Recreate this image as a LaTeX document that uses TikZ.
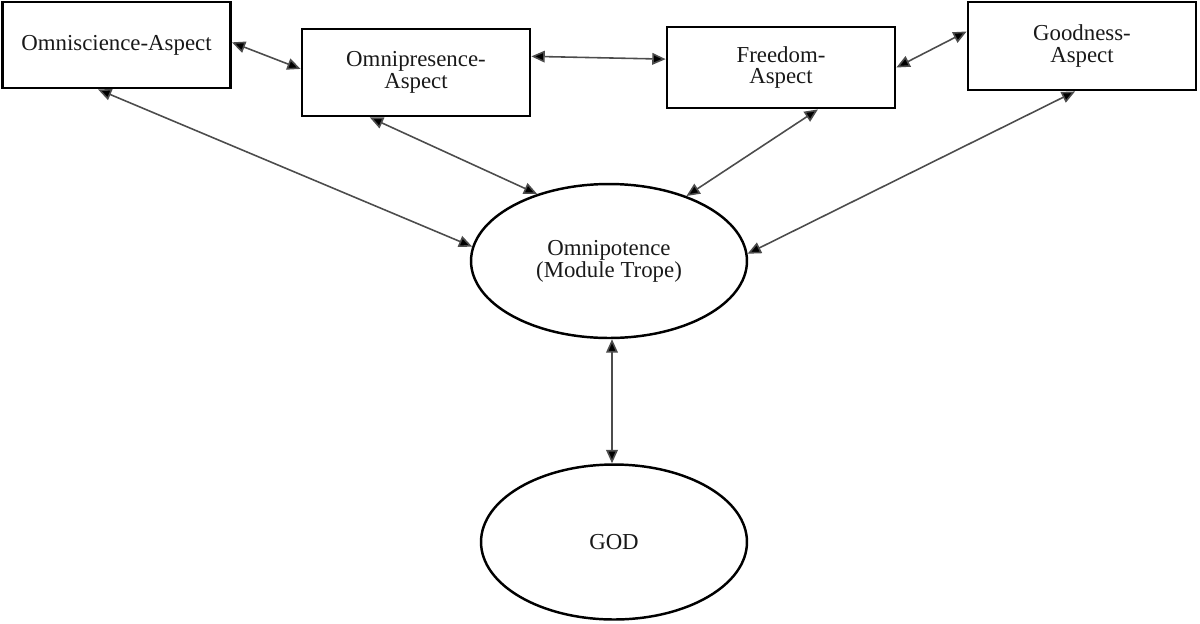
\documentclass[tikz,border=0pt]{standalone}
\usepackage{fontspec}
\setmainfont{Liberation Serif}
\usetikzlibrary{arrows.meta,shapes.geometric,calc}
\begin{document}
\begin{tikzpicture}[x=0.02cm,y=-0.02cm,
  aspectbox/.style={draw=black,line width=1.6pt,rectangle,inner sep=0pt,
    minimum width=4.56cm,align=center,font=\fontsize{13}{12.5}\selectfont,text=black!90},
  modbox/.style={draw=black,line width=1.4pt,ellipse,inner sep=0pt,align=center,
    font=\fontsize{13}{12.5}\selectfont,text=black!90},
  link/.style={draw=black!70,line width=0.9pt,
    {Triangle[length=7.6pt,width=6.6pt,fill=black]}-{Triangle[length=7.6pt,width=6.6pt,fill=black]}}
]
\useasboundingbox (0,0) rectangle (1200,623);
\node[aspectbox,minimum height=1.72cm] (sci) at (116.5,45) {Omniscience-Aspect};
\node[aspectbox,minimum height=1.74cm] (pre) at (416,72.5) {Omnipresence-\\Aspect};
\node[aspectbox,minimum height=1.62cm] (fre) at (781,67.5) {Freedom-\\Aspect};
\node[aspectbox,minimum height=1.76cm] (goo) at (1082,46) {Goodness-\\Aspect};
\node[modbox,minimum width=5.52cm,minimum height=3.08cm] (omni) at (609,261) {Omnipotence\\(Module Trope)};
\node[modbox,minimum width=5.32cm,minimum height=3.1cm] (god) at (614,542) {GOD};

\draw[link] ($(sci.north east)!0.47!(sci.south east)$) -- ($(pre.north west)!0.46!(pre.south west)$);
\draw[link] ($(pre.north east)!0.32!(pre.south east)$) -- ($(fre.north west)!0.40!(fre.south west)$);
\draw[link] ($(fre.north east)!0.50!(fre.south east)$) -- ($(goo.north west)!0.34!(goo.south west)$);

\draw[link] ($(sci.south west)!0.42!(sci.south east)$) -- (omni.174);
\draw[link] ($(pre.south west)!0.30!(pre.south east)$) -- (omni.137);
\draw[link] ($(fre.south west)!0.66!(fre.south east)$) -- (omni.40);
\draw[link] ($(goo.south west)!0.47!(goo.south east)$) -- (omni.3);

\draw[link] ($(omni.south)+(3,0)$) -- ($(god.north)+(-2,0)$);
\end{tikzpicture}
\end{document}
